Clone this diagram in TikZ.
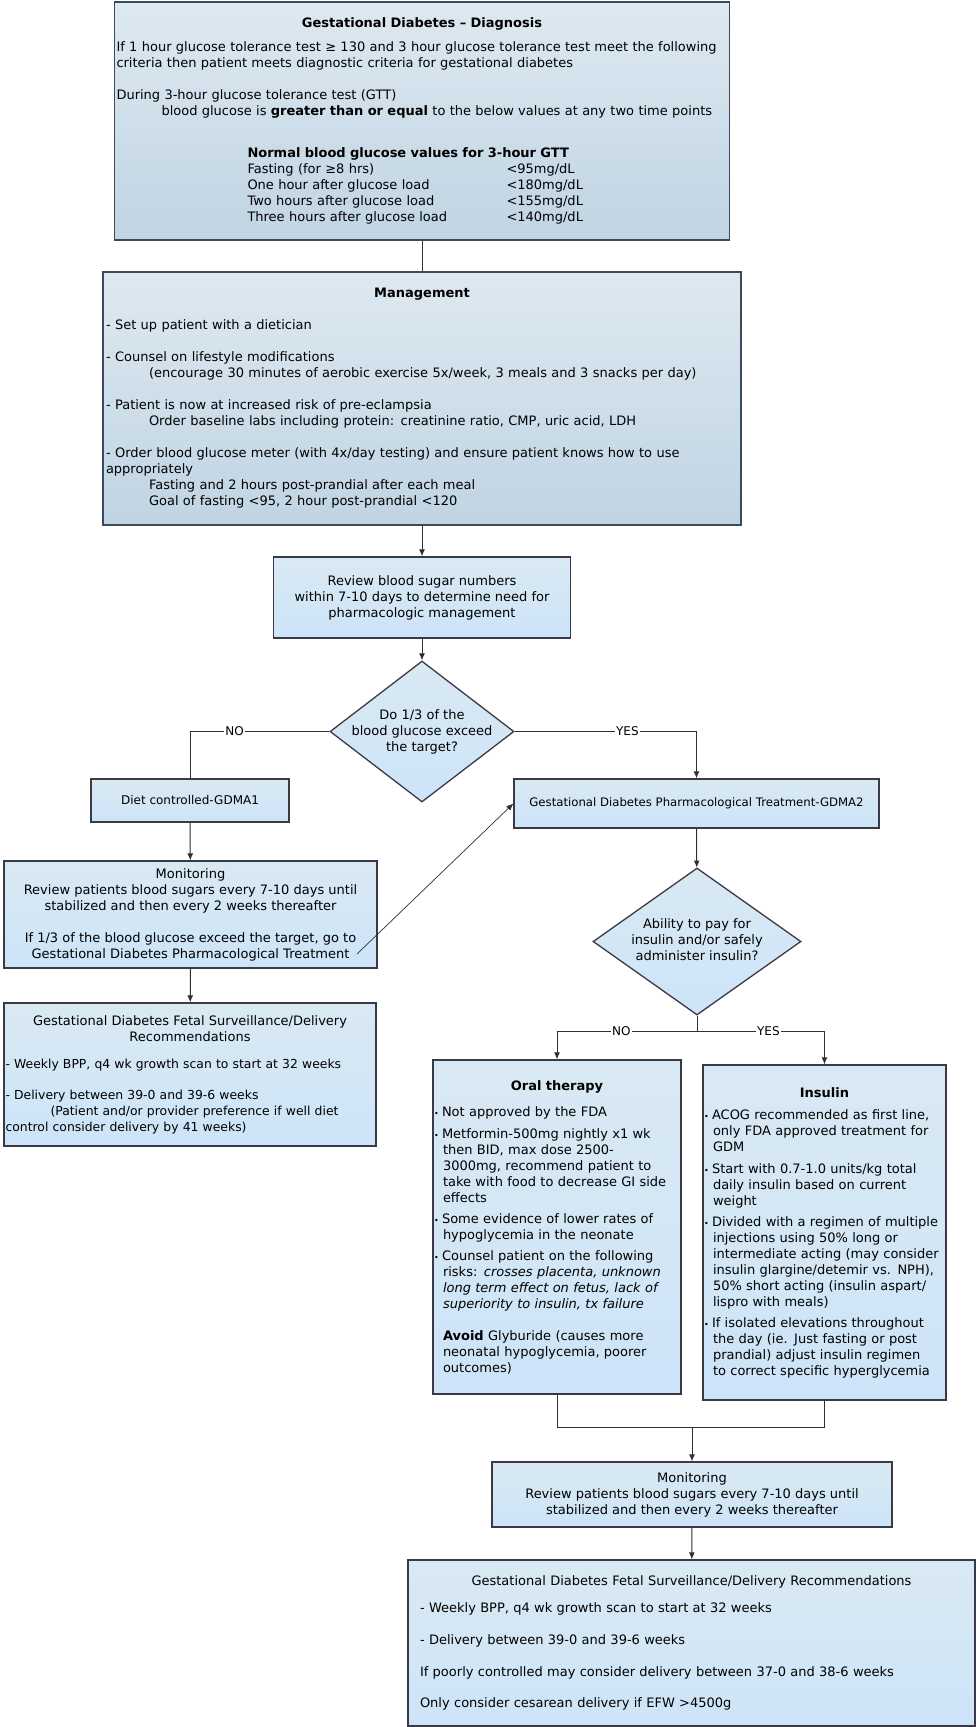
\documentclass[tikz,border=0pt]{standalone}
\usepackage{fontspec}
\setmainfont{DejaVu Sans}
\usetikzlibrary{shapes.geometric,arrows.meta}

\definecolor{bigline}{HTML}{3D4A5C}
\definecolor{bigtop}{HTML}{DDE9F1}
\definecolor{bigbot}{HTML}{C0D4E3}
\definecolor{boxline}{HTML}{3A3A46}
\definecolor{boxtop}{HTML}{D9E9F3}
\definecolor{boxbot}{HTML}{CDE4F8}
\definecolor{linkcol}{HTML}{303030}

\newcommand{\ctr}[1]{\makebox[\linewidth][c]{#1}}
\newcommand{\bul}{\makebox[8pt][l]{\fontsize{8}{8}\selectfont •}}
\newcommand{\ind}{\hspace*{9pt}}

\begin{document}
\begin{tikzpicture}[x=1pt, y=-1pt,
    font=\fontsize{13}{16}\selectfont,
    >={Latex[length=7pt,width=6pt]},
    bigbox/.style={draw=bigline, line width=1.8pt, top color=bigtop, bottom color=bigbot, inner xsep=2pt, inner ysep=0pt, align=left},
    box/.style={draw=boxline, line width=1.3pt, top color=boxtop, bottom color=boxbot, inner xsep=2pt, inner ysep=0pt, align=center},
    listbox/.style={box, align=left},
    decision/.style={diamond, draw=boxline, line width=1.3pt, top color=boxtop, bottom color=boxbot, inner sep=0pt},
    link/.style={draw=linkcol, line width=1pt},
    lbl/.style={fill=white, inner sep=1pt, font=\fontsize{12}{12}\selectfont}]

    \useasboundingbox (0,0) rectangle (976,1727);
    \fill[white] (0,0) rectangle (976,1727);

    % Nodi
    \node[bigbox, minimum width=615pt, minimum height=238pt, text width=611pt] (diag) at (422,121) {%
        \ctr{\textbf{Gestational Diabetes – Diagnosis}}\\[8pt]
        If 1 hour glucose tolerance test ≥ 130 and 3 hour glucose tolerance test meet the following\\
        criteria then patient meets diagnostic criteria for gestational diabetes\\[16pt]
        During 3-hour glucose tolerance test (GTT)\\
        \hspace*{45pt}blood glucose is \textbf{greater than or equal} to the below values at any two time points\\[26pt]
        \hspace*{131pt}\textbf{Normal blood glucose values for 3-hour GTT}\\
        \hspace*{131pt}\makebox[259pt][l]{Fasting (for ≥8 hrs)}<95mg/dL\\
        \hspace*{131pt}\makebox[259pt][l]{One hour after glucose load}<180mg/dL\\
        \hspace*{131pt}\makebox[259pt][l]{Two hours after glucose load}<155mg/dL\\
        \hspace*{131pt}\makebox[259pt][l]{Three hours after glucose load}<140mg/dL};

    \node[bigbox, inner xsep=3pt, minimum width=638pt, minimum height=253pt, text width=632pt] (mgmt) at (422,398.5) {%
        \ctr{\textbf{Management}}\\[16pt]
        - Set up patient with a dietician\\[16pt]
        - Counsel on lifestyle modifications\\
        \hspace*{43pt}(encourage 30 minutes of aerobic exercise 5x/week, 3 meals and 3 snacks per day)\\[16pt]
        - Patient is now at increased risk of pre-eclampsia\\
        \hspace*{43pt}Order baseline labs including protein: creatinine ratio, CMP, uric acid, LDH\\[16pt]
        - Order blood glucose meter (with 4x/day testing) and ensure patient knows how to use\\
        appropriately\\
        \hspace*{43pt}Fasting and 2 hours post-prandial after each meal\\
        \hspace*{43pt}Goal of fasting <95, 2 hour post-prandial <120};

    \node[box, minimum width=297pt, minimum height=81pt] (review) at (422,597.5)
        {Review blood sugar numbers\\within 7-10 days to determine need for\\pharmacologic management};

    \node[decision, minimum width=184pt, minimum height=141pt] (q1) at (422,731.5) {};
    \node[align=center] (q1t) at (q1) {Do 1/3 of the\\blood glucose exceed\\the target?};

    \node[box, minimum width=198pt, minimum height=43pt, font=\fontsize{12}{14}\selectfont] (diet) at (190,800.5) {Diet controlled-GDMA1};
    \node[box, minimum width=365pt, minimum height=49pt, font=\fontsize{11.7}{14}\selectfont] (gdma2) at (696.5,803.5) {Gestational Diabetes Pharmacological Treatment-GDMA2};

    \node[box, minimum width=373pt, minimum height=107pt] (mon1) at (190.5,914.5) {%
        Monitoring\\Review patients blood sugars every 7-10 days until\\stabilized and then every 2 weeks thereafter\\[16pt]
        If 1/3 of the blood glucose exceed the target, go to\\Gestational Diabetes Pharmacological Treatment};
    \coordinate (mon1end) at (357,954);

    \node[listbox, inner xsep=1.5pt, minimum width=372pt, minimum height=143pt, text width=369pt, font=\fontsize{12.4}{16}\selectfont] (fet1) at (190,1074.5) {%
        \ctr{\fontsize{13}{16}\selectfont Gestational Diabetes Fetal Surveillance/Delivery}\\
        \ctr{\fontsize{13}{16}\selectfont Recommendations}\\[11pt]
        - Weekly BPP, q4 wk growth scan to start at 32 weeks\\[15pt]
        - Delivery between 39-0 and 39-6 weeks\\
        \hspace*{45pt}(Patient and/or provider preference if well diet\\
        control consider delivery by 41 weeks)};

    \node[decision, minimum width=208pt, minimum height=147pt] (q2) at (697,941.5) {};
    \node[align=center] (q2t) at (697,940) {Ability to pay for\\insulin and/or safely\\administer insulin?};
    \coordinate (qsplit) at (697,1031);

    \node[listbox, inner xsep=1pt, minimum width=248pt, minimum height=334pt, text width=246pt] (oral) at (557,1227) {%
        \ctr{\textbf{Oral therapy}}\\[10pt]
        \bul Not approved by the FDA\\[6pt]
        \bul Metformin-500mg nightly x1 wk\\
        \ind then BID, max dose 2500-\\
        \ind 3000mg, recommend patient to\\
        \ind take with food to decrease GI side\\
        \ind effects\\[5pt]
        \bul Some evidence of lower rates of\\
        \ind hypoglycemia in the neonate\\[5pt]
        \bul Counsel patient on the following\\
        \ind risks: \textit{crosses placenta, unknown}\\
        \ind \textit{long term effect on fetus, lack of}\\
        \ind \textit{superiority to insulin, tx failure}\\[16pt]
        \ind \textbf{Avoid} Glyburide (causes more\\
        \ind neonatal hypoglycemia, poorer\\
        \ind outcomes)};

    \node[listbox, inner xsep=1pt, minimum width=243pt, minimum height=335pt, text width=241pt] (ins) at (824.5,1232.5) {%
        \ctr{\textbf{Insulin}}\\[6pt]
        \bul ACOG recommended as first line,\\
        \ind only FDA approved treatment for\\
        \ind GDM\\[6pt]
        \bul Start with 0.7-1.0 units/kg total\\
        \ind daily insulin based on current\\
        \ind weight\\[5pt]
        \bul Divided with a regimen of multiple\\
        \ind injections using 50\% long or\\
        \ind intermediate acting (may consider\\
        \ind insulin glargine/detemir vs. NPH),\\
        \ind 50\% short acting (insulin aspart/\\
        \ind lispro with meals)\\[5pt]
        \bul If isolated elevations throughout\\
        \ind the day (ie. Just fasting or post\\
        \ind prandial) adjust insulin regimen\\
        \ind to correct specific hyperglycemia};
    \coordinate (join) at (692,1427);

    \node[box, minimum width=400pt, minimum height=65pt] (mon2) at (692,1494.5)
        {Monitoring\\Review patients blood sugars every 7-10 days until\\stabilized and then every 2 weeks thereafter};

    \node[listbox, inner xsep=12pt, minimum width=567pt, minimum height=166pt, text width=543pt] (fet2) at (691.5,1643) {%
        \ctr{Gestational Diabetes Fetal Surveillance/Delivery Recommendations}\\[11pt]
        - Weekly BPP, q4 wk growth scan to start at 32 weeks\\[16pt]
        - Delivery between 39-0 and 39-6 weeks\\[16pt]
        If poorly controlled may consider delivery between 37-0 and 38-6 weeks\\[15pt]
        Only consider cesarean delivery if EFW >4500g};

    % Archi
    \draw[link] (diag.south) -- (mgmt.north); % Arco da diag a mgmt
    \draw[link, ->] (mgmt) -- (review);
    \draw[link, ->] (review) -- (q1);
    \draw[link] (q1.west) -| (diet.north) node[lbl, pos=0.34] {NO}; % Ramo NO
    \draw[link, ->] (q1.east) -| (gdma2.north) node[lbl, pos=0.31] {YES}; % Ramo YES
    \draw[link, ->] (diet) -- (mon1);
    \draw[link, ->] (mon1) -- (fet1);
    \draw[link, ->, line width=0.7pt] (mon1end) -- (gdma2.west); % Ritorno a GDMA2
    \draw[link, ->] (gdma2) -- (q2);
    \draw[link, ->] (q2.south) -- (qsplit) -| (oral.north) node[lbl, pos=0.27] {NO};
    \draw[link, ->] (qsplit) -| (ins.north) node[lbl, pos=0.28] {YES};
    \draw[link] (oral.south) |- (join) -| (ins.south);
    \draw[link, ->] (join) -- (mon2);
    \draw[link, ->] (mon2) -- (fet2);

\end{tikzpicture}
\end{document}
